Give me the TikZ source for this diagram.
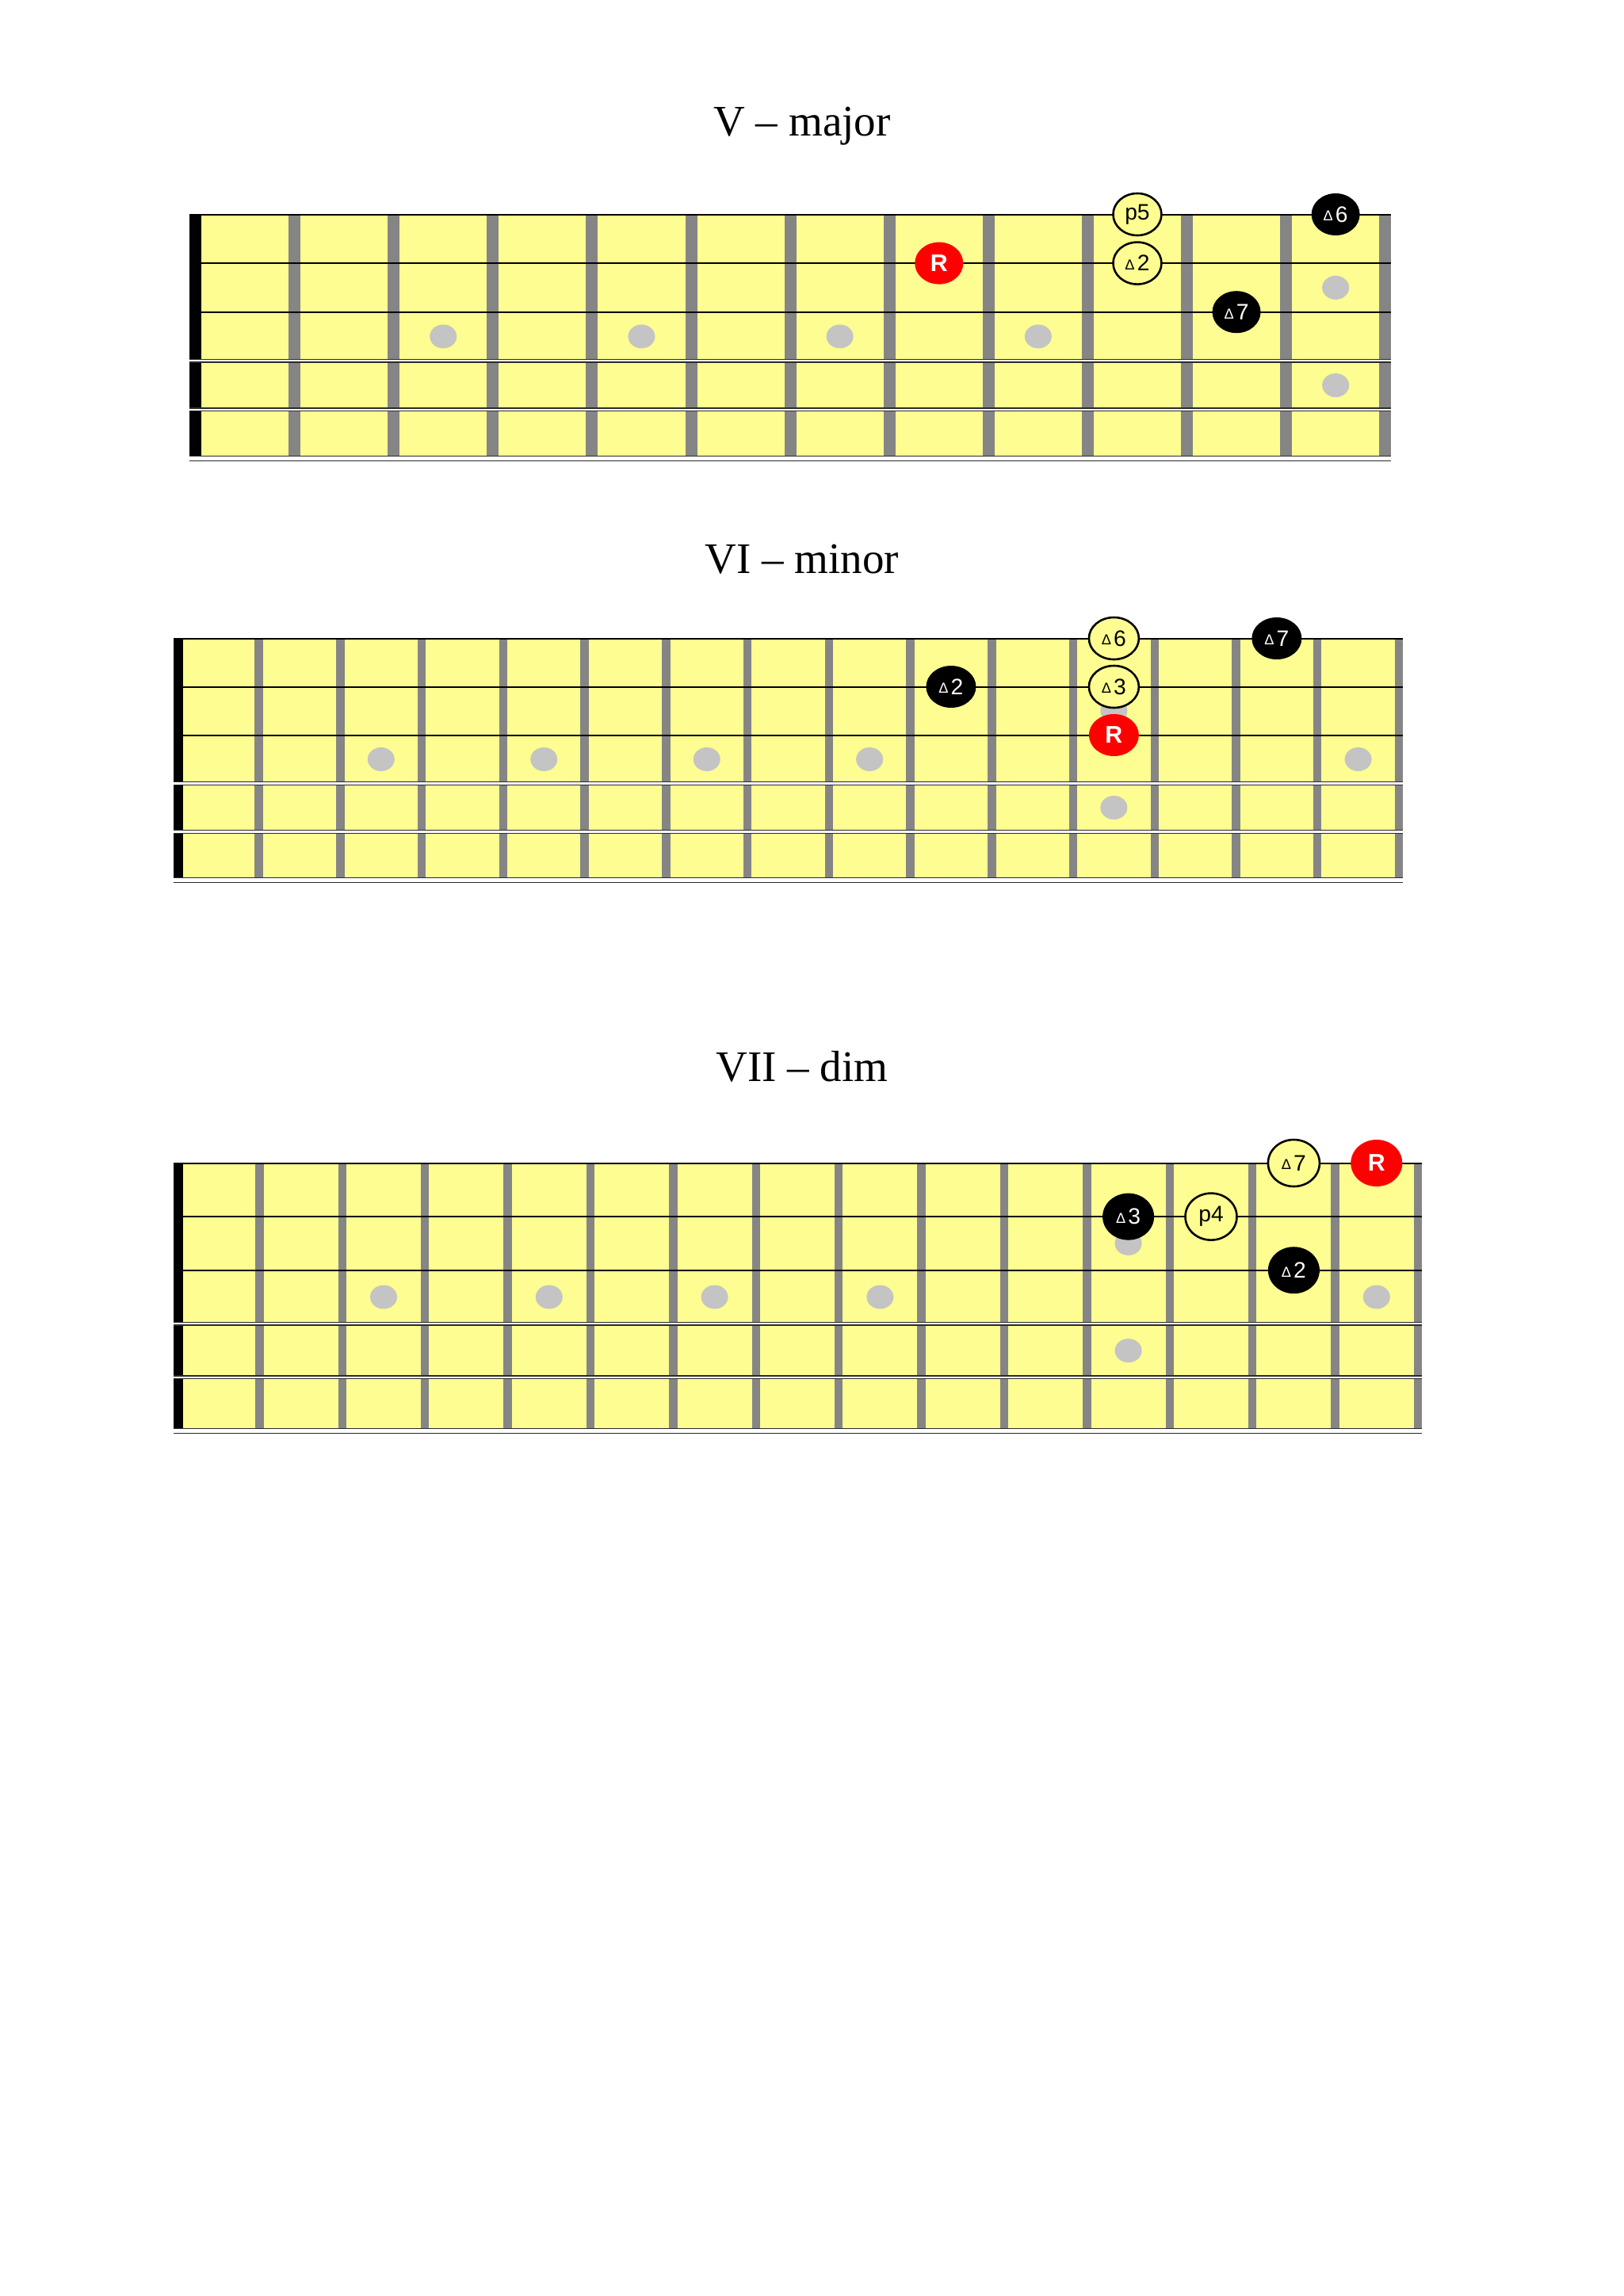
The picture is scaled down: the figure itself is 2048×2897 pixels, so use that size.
\documentclass[tikz,border=0pt]{standalone}
\usepackage{fontspec}
\usetikzlibrary{shapes.geometric}
\newfontfamily\ttlfont{Liberation Serif}
\newfontfamily\mkfont{Liberation Sans}
\definecolor{boardc}{HTML}{FDFD91}
\definecolor{fretc}{HTML}{858585}
\definecolor{dotc}{HTML}{C4C4C4}
\definecolor{rootred}{HTML}{FF0000}
\definecolor{edgec}{HTML}{2A2A2A}
\newcommand\pxu{0.290664pt}
\newcommand\dl[1]{\raisebox{0.4pt}{\fontsize{5.3}{5.3}\selectfont Δ}\kern0.9pt#1}
\tikzset{
  strthin/.style={line width=0.58pt, black},
  strwound/.style={line width=0.42pt, draw=edgec, double=white, double distance=0.62pt},
  strbass/.style={line width=0.45pt, draw=edgec, double=white, double distance=1.4pt},
  titlestyle/.style={font=\ttlfont\fontsize{16}{19}\selectfont, anchor=base, inner sep=0pt},
  mk/.style={ellipse, inner sep=0pt, font=\mkfont\fontsize{8.2}{8.5}\selectfont},
  openm/.style={mk, draw=black, line width=0.75pt, fill=boardc, text=black},
  blackm/.style={mk, fill=black, text=white},
  rootm/.style={mk, fill=rootred, text=white, font=\mkfont\bfseries\fontsize{8.8}{9}\selectfont},
  szone/.style={minimum width=61*\pxu, minimum height=53*\pxu},
  sztwo/.style={minimum width=63*\pxu, minimum height=53*\pxu},
  szthree/.style={minimum width=65*\pxu, minimum height=59*\pxu}
}
% #1 fret-0 x, #2 fret spacing, #3 number of frets, #4 top y, #5 string spacing,
% #6 fret width, #7 nut left, #8 nut right, #9 dots (fret/row)
\newcommand\drawboard[9]{%
  \pgfmathsetmacro\xe{#1+#3*#2}%
  \pgfmathsetmacro\yb{#4+5*#5}%
  \pgfmathsetmacro\xr{#1+#3*#2+#6/2}%
  \fill[boardc] (#7,#4) rectangle (\xe,\yb);
  \foreach \k in {1,...,#3}{\fill[fretc] ({#1+\k*#2-#6/2},#4) rectangle ({#1+\k*#2+#6/2},\yb);}
  \fill[black] (#7,#4) rectangle (#8,\yb);
  \foreach \f/\r in {#9}{\fill[dotc] ({#1+(\f-0.5)*#2},{#4+\r*#5}) ellipse [x radius=17, y radius=15];}
  \foreach \s in {0,1,2}{\draw[strthin] (#7,{#4+\s*#5}) -- (\xr,{#4+\s*#5});}
  \foreach \s in {3,4}{\draw[strwound] (#7,{#4+\s*#5}) -- (\xr,{#4+\s*#5});}
  \draw[strbass] (#7,\yb) -- (\xr,\yb);
}
\begin{document}
\begin{tikzpicture}[x={(0.290664pt,0)}, y={(0,-0.290664pt)}]
\useasboundingbox (0,0) rectangle (2048,2897);
\fill[white] (0,0) rectangle (2048,2897);

% ---------- V - major ----------
\node[titlestyle] (t1) at (1012,171.7) {V – major};
\drawboard{246.5}{125.1}{12}{270.5}{61.6}{15}{239}{254}{3/2.5,5/2.5,7/2.5,9/2.5,12/1.5,12/3.5}
\node[rootm, szone]  (a1) at ({246.5+7.5*125.1},332.1) {R};
\node[openm, szone]  (a2) at ({246.5+9.5*125.1},270.5) {p5};
\node[openm, szone]  (a3) at ({246.5+9.5*125.1},332.1) {\dl{2}};
\node[blackm, szone] (a4) at ({246.5+10.5*125.1},393.7) {\dl{7}};
\node[blackm, szone] (a5) at ({246.5+11.5*125.1},270.5) {\dl{6}};

% ---------- VI - minor ----------
\node[titlestyle] (t2) at (1012,723.5) {VI – minor};
\drawboard{224}{102.73}{15}{805.5}{61}{10.5}{219}{231}{3/2.5,5/2.5,7/2.5,9/2.5,12/1.5,12/3.5,15/2.5}
\node[blackm, sztwo] (b1) at ({224+9.5*102.73},866.5) {\dl{2}};
\node[openm, sztwo]  (b2) at ({224+11.5*102.73},805.5) {\dl{6}};
\node[openm, sztwo]  (b3) at ({224+11.5*102.73},866.5) {\dl{3}};
\node[rootm, sztwo]  (b4) at ({224+11.5*102.73},927.5) {R};
\node[blackm, sztwo] (b5) at ({224+13.5*102.73},805.5) {\dl{7}};

% ---------- VII - dim ----------
\node[titlestyle] (t3) at (1012,1364) {VII – dim};
\drawboard{223}{104.4}{15}{1467.5}{67.6}{10.5}{219}{231}{3/2.5,5/2.5,7/2.5,9/2.5,12/1.5,12/3.5,15/2.5}
\node[blackm, szthree] (c1) at ({223+11.5*104.4},1535.1) {\dl{3}};
\node[openm, szthree]  (c2) at ({223+12.5*104.4},1535.1) {p4};
\node[openm, szthree]  (c3) at ({223+13.5*104.4},1467.5) {\dl{7}};
\node[rootm, szthree]  (c4) at ({223+14.5*104.4},1467.5) {R};
\node[blackm, szthree] (c5) at ({223+13.5*104.4},1602.7) {\dl{2}};
\end{tikzpicture}
\end{document}
